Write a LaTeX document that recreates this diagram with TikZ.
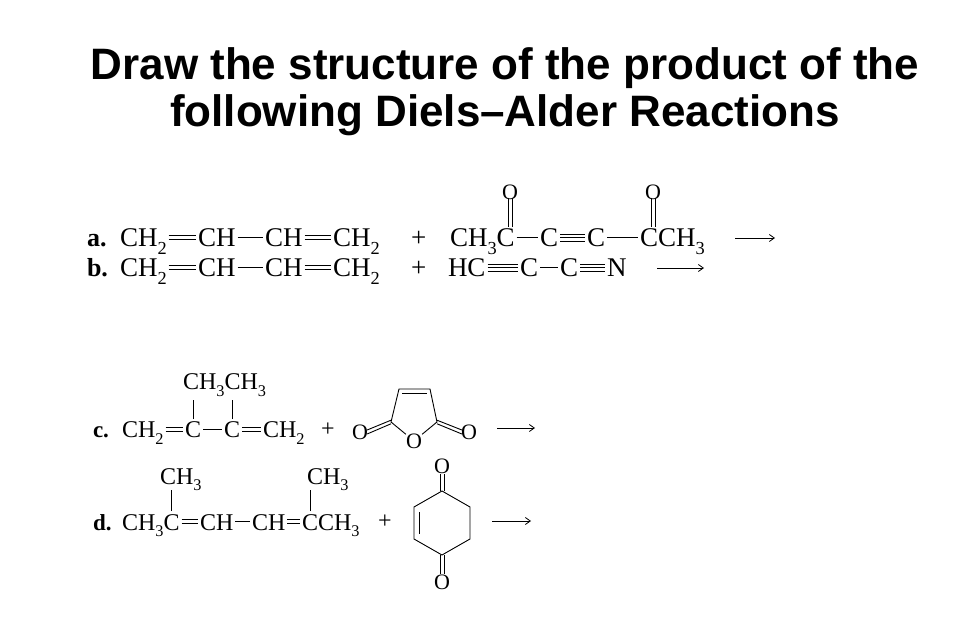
\documentclass[tikz,border=0pt]{standalone}
\usepackage{fontspec}
\setmainfont{Liberation Serif}
\newfontfamily\titlefont{Liberation Sans}
\usetikzlibrary{arrows.meta,calc}
\newcommand\sub[1]{\raisebox{-0.28em}{\scalebox{0.68}{#1}}}
\tikzset{
  chem/.style={inner sep=0pt,outer sep=0pt,anchor=base west,font=\fontsize{27}{29}\selectfont},
  chemc/.style={inner sep=0pt,outer sep=0pt,anchor=base west,font=\fontsize{24}{26}\selectfont},
  lbl/.style={chem,font=\fontsize{26}{28}\selectfont\bfseries},
  lblc/.style={chem,font=\fontsize{23}{25}\selectfont\bfseries},
  oatom/.style={inner sep=0pt,font=\fontsize{22}{24}\selectfont},
  bond/.style={line width=0.9pt},
  rxn/.style={line width=0.8pt,-{Straight Barb[length=5pt,width=7pt]}},
  ttl/.style={font=\titlefont\bfseries\fontsize{44}{50}\selectfont,inner sep=0pt}
}
\def\bm{9.5}
\newcommand\bS[2]{\draw[bond] ([xshift=2pt,yshift=\bm pt]#1.base east) -- ([xshift=-2pt,yshift=\bm pt]#2.base west);}
\newcommand\bD[2]{\draw[bond] ([xshift=2pt,yshift=\bm pt-2.2pt]#1.base east) -- ([xshift=-2pt,yshift=\bm pt-2.2pt]#2.base west);
  \draw[bond] ([xshift=2pt,yshift=\bm pt+2.2pt]#1.base east) -- ([xshift=-2pt,yshift=\bm pt+2.2pt]#2.base west);}
\newcommand\bT[2]{\draw[bond] ([xshift=2pt,yshift=\bm pt-3.5pt]#1.base east) -- ([xshift=-2pt,yshift=\bm pt-3.5pt]#2.base west);
  \draw[bond] ([xshift=2pt,yshift=\bm pt]#1.base east) -- ([xshift=-2pt,yshift=\bm pt]#2.base west);
  \draw[bond] ([xshift=2pt,yshift=\bm pt+3.5pt]#1.base east) -- ([xshift=-2pt,yshift=\bm pt+3.5pt]#2.base west);}
\begin{document}
\begin{tikzpicture}[x=1pt,y=-1pt]
\useasboundingbox[fill=white] (0,0) rectangle (962,628);
% title
\node[ttl] (t1) at (505,68) {Draw the structure of the product of the};
\node[ttl] (t2) at (505,115) {following Diels–Alder Reactions};
% row a
\node[lbl] (la) at (87,247) {a.};
\node[chem] (a1) at (120,247) {CH\sub2};
\node[chem] (a2) at (198,247) {CH};
\node[chem] (a3) at (265,247) {CH};
\node[chem] (a4) at (333,247) {CH\sub2};
\node[chem] (pa) at (411,247) {+};
\node[chem] (a5) at (450,247) {CH\sub3C};
\node[chem] (a6) at (540,247) {C};
\node[chem] (a7) at (587,247) {C};
\node[chem] (a8) at (640,247) {CCH\sub3};
\bD{a1}{a2}\bS{a2}{a3}\bD{a3}{a4}\bS{a5}{a6}\bT{a6}{a7}\bS{a7}{a8}
\node[oatom] (oa1) at (510,192) {O};
\node[oatom] (oa2) at (653,192) {O};
\draw[bond] ([xshift=-2pt,yshift=2pt]oa1.south) -- ([xshift=-2pt,yshift=2pt]oa1.south |- a5.north);
\draw[bond] ([xshift=2pt,yshift=2pt]oa1.south) -- ([xshift=2pt,yshift=2pt]oa1.south |- a5.north);
\draw[bond] ([xshift=-2pt,yshift=2pt]oa2.south) -- ([xshift=-2pt,yshift=2pt]oa2.south |- a8.north);
\draw[bond] ([xshift=2pt,yshift=2pt]oa2.south) -- ([xshift=2pt,yshift=2pt]oa2.south |- a8.north);
\coordinate (ra1) at (735,238); \coordinate (ra2) at (775,238);
\draw[rxn] (ra1) -- (ra2);
% row b
\node[lbl] (lb) at (87,277) {b.};
\node[chem] (b1) at (120,277) {CH\sub2};
\node[chem] (b2) at (198,277) {CH};
\node[chem] (b3) at (265,277) {CH};
\node[chem] (b4) at (333,277) {CH\sub2};
\node[chem] (pb) at (411,277) {+};
\node[chem] (b5) at (448,277) {HC};
\node[chem] (b6) at (520,277) {C};
\node[chem] (b7) at (560,277) {C};
\node[chem] (b8) at (607,277) {N};
\bD{b1}{b2}\bS{b2}{b3}\bD{b3}{b4}\bT{b5}{b6}\bS{b6}{b7}\bT{b7}{b8}
\coordinate (rb1) at (657,268); \coordinate (rb2) at (704,268);
\draw[rxn] (rb1) -- (rb2);
% row c
\def\bm{8.3}
\node[lblc] (lc) at (93,438) {c.};
\node[chemc] (c1) at (122,438) {CH\sub2};
\node[chemc] (c2) at (185,438) {C};
\node[chemc] (c3) at (224,438) {C};
\node[chemc] (c4) at (263,438) {CH\sub2};
\bD{c1}{c2}\bS{c2}{c3}\bD{c3}{c4}
\node[chemc] (m1) at (183,390) {CH\sub3CH\sub3};
\draw[bond] ([yshift=3pt]c2.north) -- ([yshift=-10pt]c2.north |- m1.base);
\draw[bond] ([yshift=3pt]c3.north) -- ([yshift=-10pt]c3.north |- m1.base);
\node[chemc,anchor=center] (pc) at (328,430) {+};
% maleic anhydride
\node[oatom] (ro) at (414,441) {O};
\coordinate (cl) at (391,422); \coordinate (ctl) at (399,389);
\coordinate (ctr) at (430,389); \coordinate (cr) at (437,422);
\node[oatom] (ol) at (360,432) {O};
\node[oatom] (or) at (469,432) {O};
\draw[bond] (ro) -- (cl) -- (ctl) -- (ctr) -- (cr) -- (ro);
\draw[bond] ($(ctl)+(3,4)$) -- ($(ctr)+(-3,4)$);
\draw[bond] ($(cl)+(0,-1.8)$) -- ($(ol.east)+(-1,-2)$);
\draw[bond] ($(cl)+(0,1.8)$) -- ($(ol.east)+(-1,2)$);
\draw[bond] ($(cr)+(0,-1.8)$) -- ($(or.west)+(1,-2)$);
\draw[bond] ($(cr)+(0,1.8)$) -- ($(or.west)+(1,2)$);
\coordinate (rc1) at (497,428); \coordinate (rc2) at (535,428);
\draw[rxn] (rc1) -- (rc2);
% row d
\node[lblc] (ld) at (93,530) {d.};
\node[chemc] (d1) at (122,530) {CH\sub3C};
\node[chemc] (d2) at (200,530) {CH};
\node[chemc] (d3) at (252,530) {CH};
\node[chemc] (d4) at (302,530) {CCH\sub3};
\bD{d1}{d2}\bS{d2}{d3}\bD{d3}{d4}
\node[chemc] (n1) at (160,484) {CH\sub3};
\node[chemc] (n2) at (307,484) {CH\sub3};
\draw[bond] ([xshift=-8pt,yshift=3pt]d1.north east) -- ([xshift=-8pt]d1.north east |- 0,490);
\draw[bond] ([xshift=8pt,yshift=3pt]d4.north west) -- ([xshift=8pt]d4.north west |- 0,490);
\node[chemc,anchor=center] (pd) at (385,522) {+};
% benzoquinone
\coordinate (q1) at (442,491); \coordinate (q2) at (470,507);
\coordinate (q3) at (470,539); \coordinate (q4) at (442,555);
\coordinate (q5) at (414,539); \coordinate (q6) at (414,507);
\draw[bond] (q1) -- (q2) -- (q3) -- (q4) -- (q5) -- (q6) -- cycle;
\draw[bond] (419,512) -- (419,534);
\node[oatom] (qo1) at (442,466) {O};
\node[oatom] (qo2) at (442,582) {O};
\draw[bond] ([xshift=-2pt]q1) -- ([xshift=-2pt]qo1.south);
\draw[bond] ([xshift=2pt]q1) -- ([xshift=2pt]qo1.south);
\draw[bond] ([xshift=-2pt]q4) -- ([xshift=-2pt]qo2.north);
\draw[bond] ([xshift=2pt]q4) -- ([xshift=2pt]qo2.north);
\coordinate (rd1) at (492,521); \coordinate (rd2) at (531,521);
\draw[rxn] (rd1) -- (rd2);
\end{tikzpicture}
\end{document}
